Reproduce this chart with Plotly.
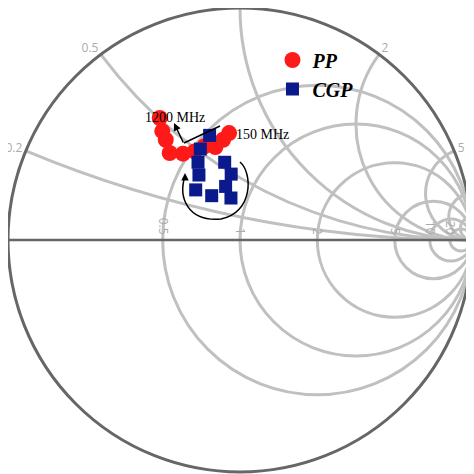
import numpy as np
import plotly.graph_objects as go

# reflection-coefficient readings (Gamma real, imag) from the picture
pp_gr = [-0.346, -0.335, -0.320, -0.303, -0.246, -0.196, -0.153, -0.106, -0.073, -0.047]
pp_gi = [0.526, 0.469, 0.432, 0.375, 0.372, 0.382, 0.404, 0.401, 0.432, 0.461]
cgp_gr = [-0.131, -0.171, -0.181, -0.177, -0.191, -0.122, -0.039, -0.062, -0.038, -0.066]
cgp_gi = [0.451, 0.392, 0.335, 0.280, 0.216, 0.191, 0.181, 0.231, 0.284, 0.335]
real_ticks = [0.5, 1, 2, 5, 10, 20]
imag_ticks = [0.2, 0.5, 1, 2, 5, 10, 20]

def to_z(gr, gi):
    g = np.array(gr) + 1j * np.array(gi)
    z = (1 + g) / (1 - g)
    return z.real, z.imag

ppr, ppi = to_z(pp_gr, pp_gi)
cgr, cgi = to_z(cgp_gr, cgp_gi)

fig = go.Figure()
fig.add_trace(go.Scattersmith(real=ppr, imag=ppi, mode="markers", name="PP",
                              marker=dict(symbol="circle", size=16, color="#ff1a1a")))
fig.add_trace(go.Scattersmith(real=cgr, imag=cgi, mode="markers", name="CGP",
                              marker=dict(symbol="square", size=13, color="#0a1a8c")))

# pixel -> paper helper (figure is 474 px, margins 0 on left/top, 10 on right/bottom)
PW = 464
def px(x): return x / PW
def py(y): return 1 - y / PW

shapes = [
    dict(type="line", xref="paper", yref="paper", x0=px(176), y0=py(135), x1=px(212), y1=py(118),
         line=dict(color="black", width=1.5)),
    dict(type="path", xref="paper", yref="paper",
         path=f"M {px(232)},{py(154)} C {px(245)},{py(165)} {px(245)},{py(205)} {px(213)},{py(211)} "
              f"C {px(180)},{py(214)} {px(170)},{py(190)} {px(177)},{py(168)}",
         line=dict(color="black", width=1.5)),
]
ann = [
    dict(xref="paper", yref="paper", x=px(166), y=py(115), ax=10, ay=21, text="", showarrow=True,
         arrowhead=2, arrowsize=1, arrowwidth=1.5, arrowcolor="black"),
    dict(xref="paper", yref="paper", x=px(177), y=py(165), ax=0, ay=8, text="", showarrow=True,
         arrowhead=2, arrowsize=1, arrowwidth=1.5, arrowcolor="black"),
    dict(xref="paper", yref="paper", x=px(167), y=py(100), text="1200 MHz", showarrow=False,
         font=dict(family="Liberation Serif", size=14, color="black")),
    dict(xref="paper", yref="paper", x=px(255), y=py(117), text="150 MHz", showarrow=False,
         font=dict(family="Liberation Serif", size=14, color="black")),
]

fig.update_layout(
    width=474, height=474, margin=dict(l=0, r=10, t=0, b=10),
    paper_bgcolor="white", plot_bgcolor="white",
    smith=dict(
        domain=dict(x=[0, 1], y=[0, 1]), bgcolor="white",
        realaxis=dict(tickvals=real_ticks, gridcolor="#c0c0c0", gridwidth=2.5,
                      linecolor="#666666", linewidth=2.5, showline=True,
                      tickfont=dict(color="#aaaaaa", size=12)),
        imaginaryaxis=dict(tickvals=imag_ticks, gridcolor="#c0c0c0", gridwidth=2.5,
                           linecolor="#666666", linewidth=3, showline=True,
                           tickfont=dict(color="#aaaaaa", size=12)),
    ),
    legend=dict(x=0.57, y=0.93, xanchor="left", yanchor="top", bgcolor="rgba(0,0,0,0)",
                font=dict(family="Liberation Serif", size=20, color="black", style="italic", weight="bold")),
    shapes=shapes, annotations=ann,
)
fig.write_html("out.html")
